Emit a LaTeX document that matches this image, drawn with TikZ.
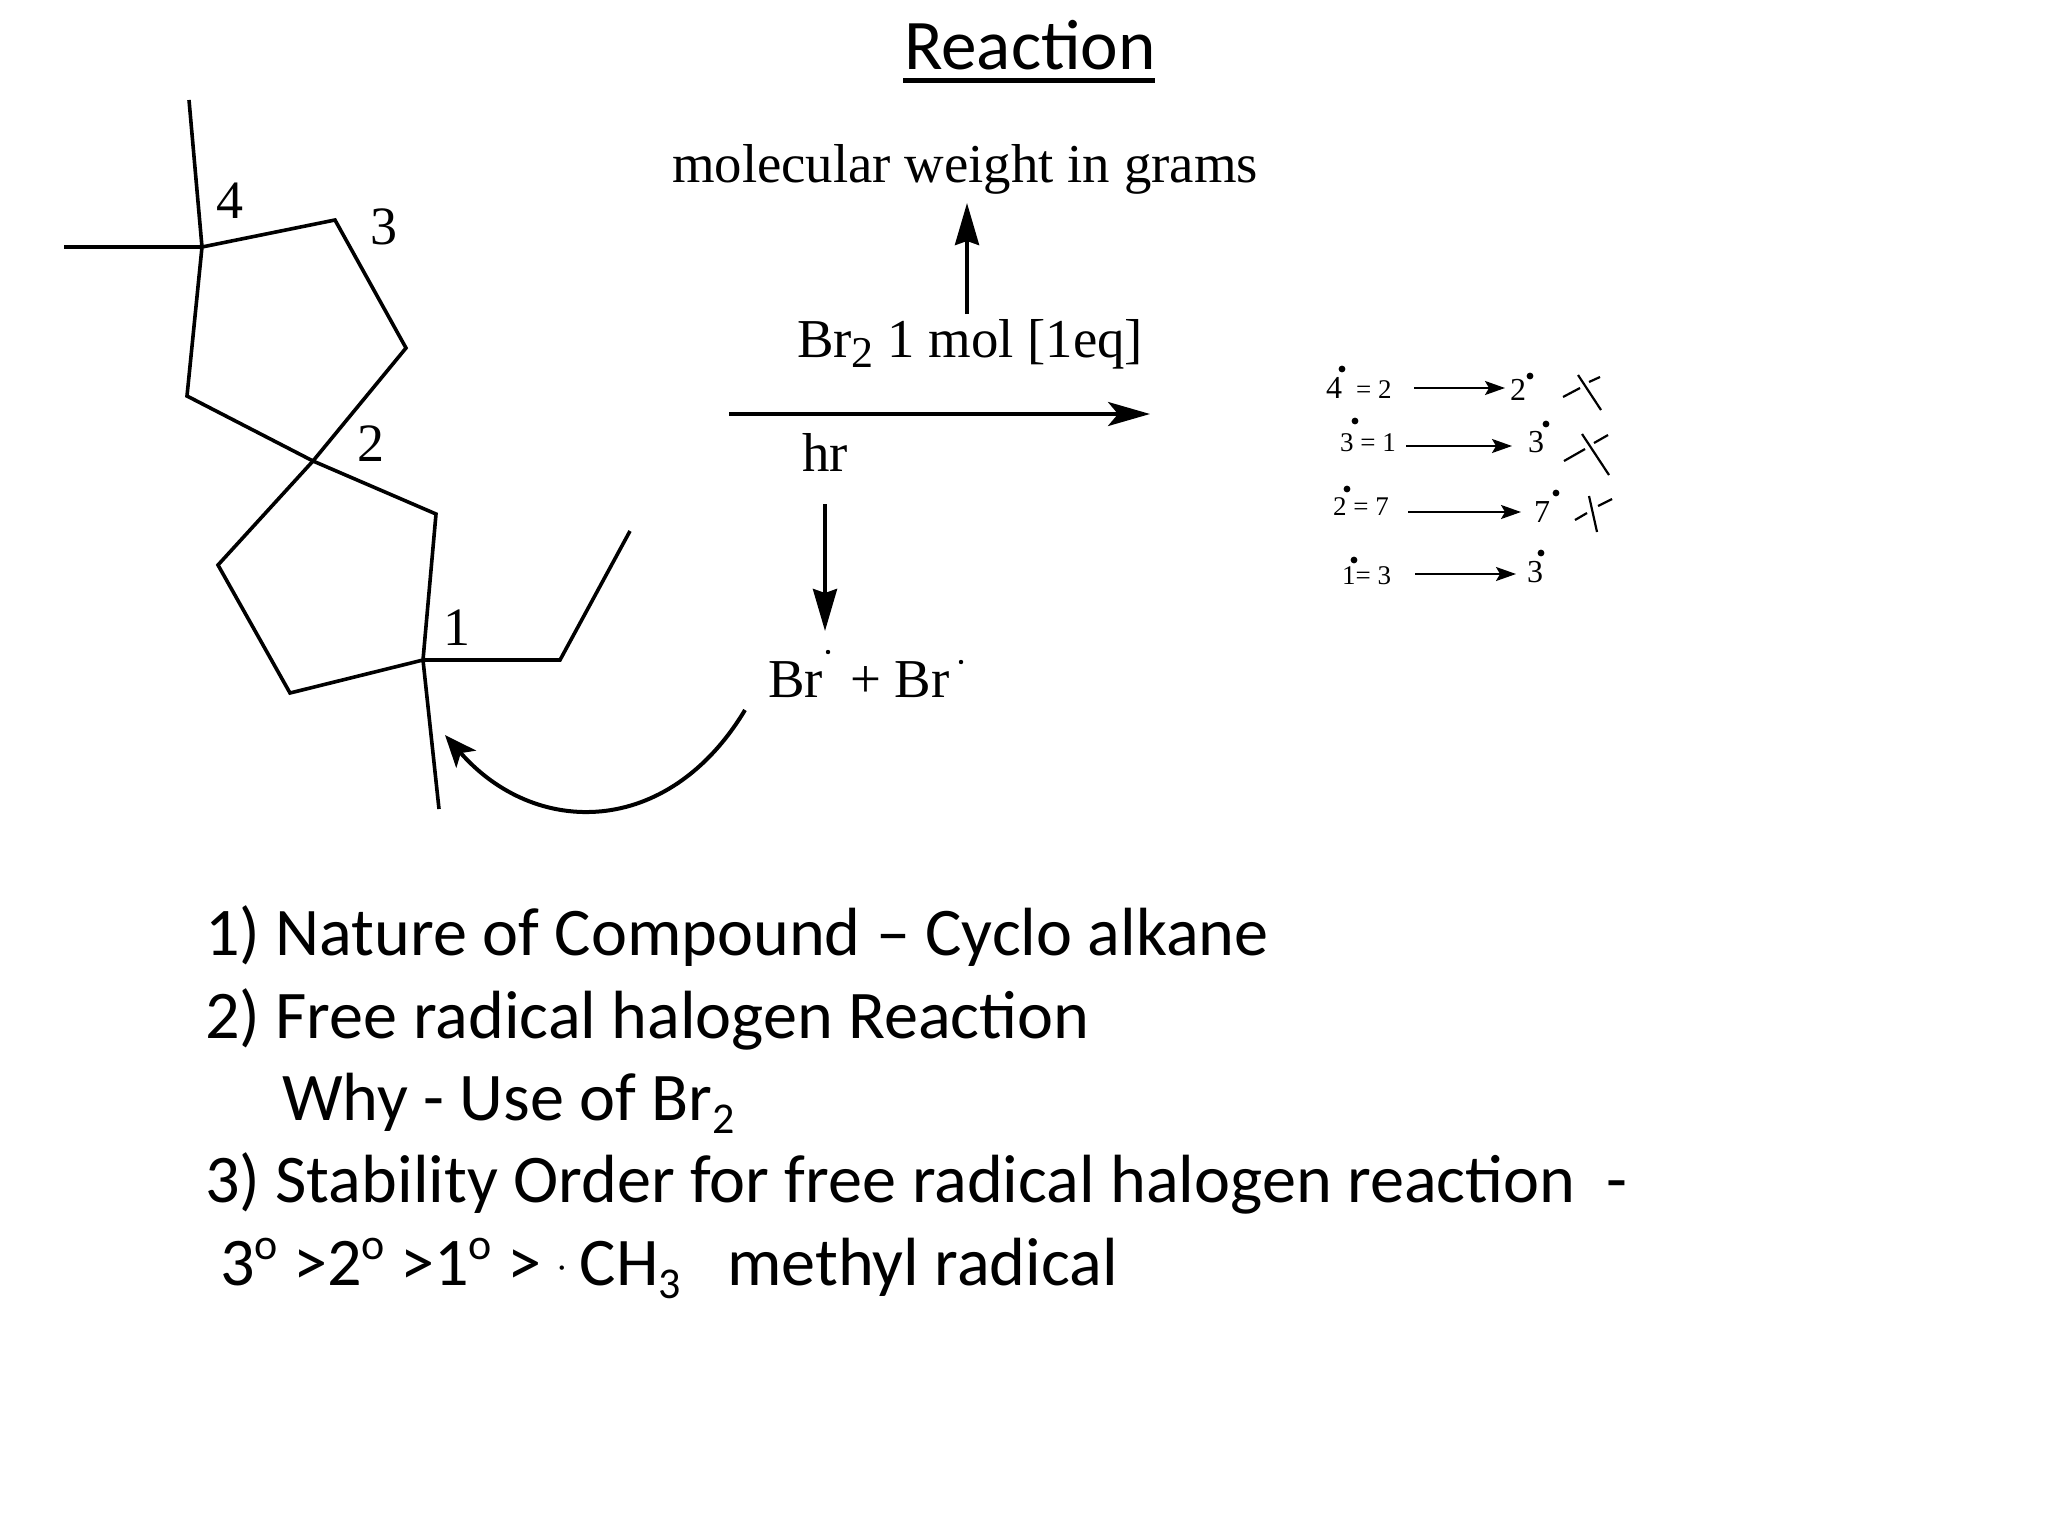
\documentclass[tikz,border=0pt]{standalone}
\usepackage{fontspec}
\setmainfont{Liberation Serif}
\newfontfamily\calfam{Carlito}
\usetikzlibrary{arrows.meta}
\newcommand{\subnum}[3]{\raisebox{#1}{\fontsize{#2}{#2}\selectfont #3}}
\tikzset{
  txt/.style={inner sep=0pt,outer sep=0pt,anchor=base west},
  ctr/.style={inner sep=0pt,outer sep=0pt,anchor=base},
  title/.style={txt,font=\calfam\fontsize{35.6}{35.6}\selectfont},
  body/.style={txt,font=\calfam\fontsize{34.1}{34.1}\selectfont},
  big/.style={txt,font=\fontsize{27.4}{27.4}\selectfont},
  atomlab/.style={ctr,font=\fontsize{27}{27}\selectfont},
  rowsm/.style={txt,font=\fontsize{13.5}{13.5}\selectfont},
  rowbig/.style={ctr,font=\fontsize{16}{16}\selectfont},
  bond/.style={line width=1.8pt,line join=miter,line cap=butt},
  thick arrow/.style={line width=2pt,-{Stealth[length=21pt,width=12pt,inset=2pt]}},
  main arrow/.style={line width=2pt,-{Stealth[length=21pt,width=12pt,inset=5pt]}},
  curve arrow/.style={line width=2pt,-{Stealth[length=16pt,width=13pt,inset=4pt]}},
  small arrow/.style={line width=1pt,-{Stealth[length=10pt,width=7pt,inset=2pt]}},
  crossline/.style={line width=1.1pt},
  raddot/.style={circle,fill=black,inner sep=0pt,minimum size=3.4pt},
  tinydot/.style={circle,fill=black,inner sep=0pt,minimum size=2.2pt},
}
\begin{document}
\begin{tikzpicture}[x=0.5pt,y=-0.5pt]
\useasboundingbox (0,0) rectangle (2048,1536);
% title
\node[title] (title) at (904,69) {Reaction};
\coordinate (ulL) at (903,81); \coordinate (ulR) at (1155,81);
\draw[line width=2.5pt] (ulL) -- (ulR);
% molecule
\coordinate (top) at (189,100); \coordinate (cfour) at (202,247);
\coordinate (left) at (64,247);
\coordinate (cthree) at (335,220); \coordinate (rr) at (406,348);
\coordinate (spiro) at (313,461); \coordinate (ul) at (187,396);
\coordinate (lr) at (436,514); \coordinate (cone) at (423,660);
\coordinate (bl) at (290,693); \coordinate (ll) at (218,565);
\coordinate (etA) at (560,660); \coordinate (etB) at (630,531);
\coordinate (me) at (439,809);
\draw[bond] (top) -- (cfour) -- (cthree) -- (rr) -- (spiro) -- (ul) -- (cfour);
\draw[bond] (left) -- (cfour);
\draw[bond] (spiro) -- (lr) -- (cone) -- (bl) -- (ll) -- (spiro);
\draw[bond] (cone) -- (etA) -- (etB);
\draw[bond] (cone) -- (me);
\node[atomlab] (l4) at (230,218) {4};
\node[atomlab] (l3) at (384,244) {3};
\node[atomlab] (l2) at (371,461) {2};
\node[atomlab] (l1) at (457,645) {1};
% reagents
\node[big] (mw) at (672,182) {molecular weight in grams};
\node[big] (reag) at (797,357) {Br\subnum{-0.2em}{22}{2} 1 mol [1eq]};
\node[big] (hr) at (802,471) {hr};
\node[big] (brs) at (768,697) {Br\phantom{.}\hspace{0.25em}+ Br};
\node[tinydot] (d1) at (828,652) {};
\node[tinydot] (d2) at (961,662) {};
\coordinate (upS) at (967,314); \coordinate (upE) at (967,203);
\coordinate (mainS) at (729,414); \coordinate (mainE) at (1150,414);
\coordinate (dnS) at (825,504); \coordinate (dnE) at (825,631);
\draw[thick arrow] (upS) -- (upE);
\draw[main arrow] (mainS) -- (mainE);
\draw[thick arrow] (dnS) -- (dnE);
\coordinate (arcS) at (745,710); \coordinate (arcE) at (445,735);
\draw[curve arrow] (arcS) .. controls (668,838) and (535,838) .. (arcE);
% rows
\node[rowbig] (r1a) at (1334,398) {4};
\node[rowsm] (r1b) at (1356,398) {= 2};
\node[raddot] (r1d) at (1342,369) {};
\coordinate (r1s) at (1414,388); \coordinate (r1e) at (1505,388);
\draw[small arrow] (r1s) -- (r1e);
\node[rowbig] (r1c) at (1518,400) {2};
\node[raddot] (r1f) at (1530,376) {};
\draw[crossline] (1578,375) -- (1601,410) (1563,397) -- (1580,388) (1589,382) -- (1600,377);
\node[rowsm] (r2a) at (1340,451) {3 = 1};
\node[raddot] (r2d) at (1355,421) {};
\coordinate (r2s) at (1406,446); \coordinate (r2e) at (1512,446);
\draw[small arrow] (r2s) -- (r2e);
\node[rowbig] (r2c) at (1536,452) {3};
\node[raddot] (r2f) at (1546,424) {};
\draw[crossline] (1582,434) -- (1609,475) (1564,461) -- (1585,449) (1594,443) -- (1608,435);
\node[rowsm] (r3a) at (1333,515) {2 = 7};
\node[raddot] (r3d) at (1347,489) {};
\coordinate (r3s) at (1408,512); \coordinate (r3e) at (1521,512);
\draw[small arrow] (r3s) -- (r3e);
\node[rowbig] (r3c) at (1542,522) {7};
\node[raddot] (r3f) at (1556,493) {};
\draw[crossline] (1589,496) -- (1597,532) (1575,520) -- (1587,513) (1598,506) -- (1612,499);
\node[rowsm] (r4a) at (1342,584) {1= 3};
\node[raddot] (r4d) at (1354,560) {};
\coordinate (r4s) at (1415,574); \coordinate (r4e) at (1516,574);
\draw[small arrow] (r4s) -- (r4e);
\node[rowbig] (r4c) at (1535,582) {3};
\node[raddot] (r4f) at (1541,553) {};
% body text
\node[body] (b1) at (205,955) {1) Nature of Compound – Cyclo alkane};
\node[body] (b2) at (205,1038) {2) Free radical halogen Reaction};
\node[body] (b3) at (282,1120) {Why - Use of Br\subnum{-0.2em}{22}{2}};
\node[body] (b4) at (205,1202) {3) Stability Order for free radical halogen reaction\ \ -};
\node[body] (b5) at (220,1285) {3\subnum{0.38em}{22}{o} >2\subnum{0.38em}{22}{o} >1\subnum{0.38em}{22}{o} > \subnum{0.1em}{22}{$\cdot$}\,CH\subnum{-0.2em}{22}{3}\ \ \ methyl radical};
\end{tikzpicture}
\end{document}
